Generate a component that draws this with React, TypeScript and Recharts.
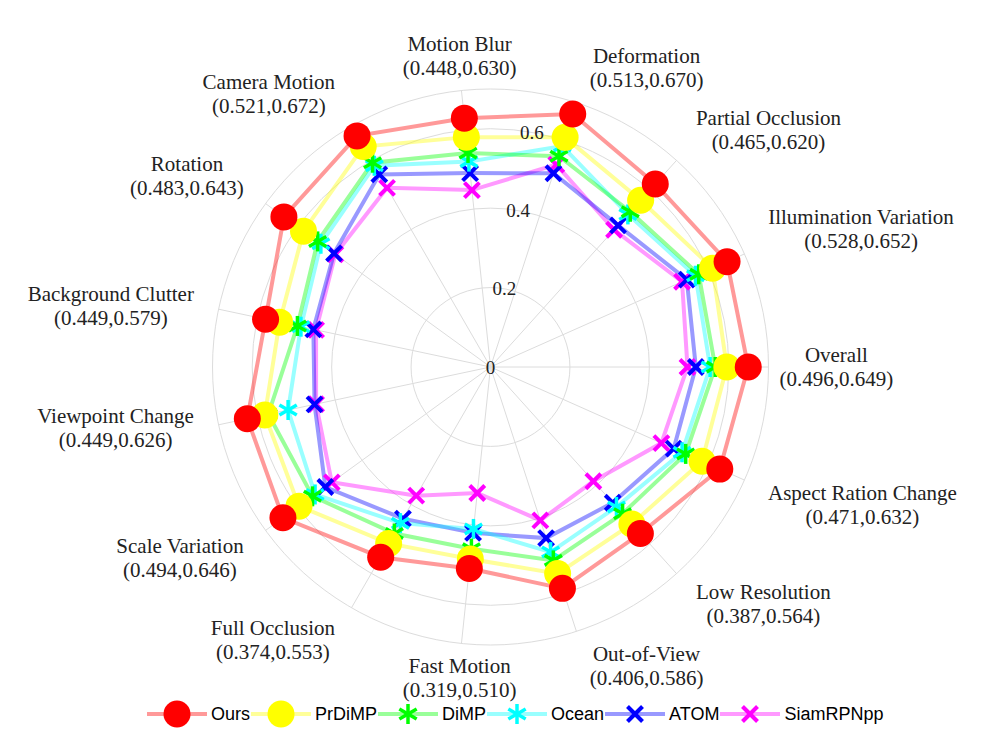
import React from 'react'
import { RadarChart, Radar, PolarGrid, PolarAngleAxis, PolarRadiusAxis, Legend } from 'recharts'

// attribute order, counter-clockwise from the right
const categories = [
  'Overall', 'Illumination Variation', 'Partial Occlusion', 'Deformation', 'Motion Blur',
  'Camera Motion', 'Rotation', 'Background Clutter', 'Viewpoint Change', 'Scale Variation',
  'Full Occlusion', 'Fast Motion', 'Out-of-View', 'Low Resolution', 'Aspect Ration Change',
]
const ours = [0.649, 0.652, 0.620, 0.670, 0.630, 0.672, 0.643, 0.579, 0.626, 0.646, 0.553, 0.510, 0.586, 0.564, 0.632]
const prdimp = [0.595, 0.612, 0.565, 0.608, 0.582, 0.641, 0.582, 0.543, 0.581, 0.596, 0.513, 0.486, 0.547, 0.532, 0.583]
const dimp = [0.566, 0.574, 0.526, 0.558, 0.542, 0.594, 0.538, 0.497, 0.572, 0.554, 0.484, 0.460, 0.512, 0.497, 0.538]
const ocean = [0.553, 0.565, 0.517, 0.585, 0.520, 0.585, 0.528, 0.488, 0.521, 0.546, 0.454, 0.410, 0.490, 0.474, 0.528]
const atom = [0.517, 0.541, 0.480, 0.513, 0.491, 0.560, 0.487, 0.456, 0.453, 0.514, 0.441, 0.420, 0.453, 0.460, 0.505]
const siamrpnpp = [0.496, 0.528, 0.465, 0.536, 0.448, 0.521, 0.483, 0.449, 0.449, 0.494, 0.374, 0.319, 0.406, 0.387, 0.471]
const radiusDomain = [0, 0.7]
const radiusTicks = [0, 0.2, 0.4, 0.6]

type Shape = 'circle' | 'asterisk' | 'cross'
const series: { name: string; values: number[]; color: string; shape: Shape }[] = [
  { name: 'Ours', values: ours, color: '#ff0000', shape: 'circle' },
  { name: 'PrDiMP', values: prdimp, color: '#ffff00', shape: 'circle' },
  { name: 'DiMP', values: dimp, color: '#00ff00', shape: 'asterisk' },
  { name: 'Ocean', values: ocean, color: '#00ffff', shape: 'asterisk' },
  { name: 'ATOM', values: atom, color: '#0000ff', shape: 'cross' },
  { name: 'SiamRPNpp', values: siamrpnpp, color: '#ff00ff', shape: 'cross' },
]

const rows = categories.map((name, i) => {
  const row: Record<string, number | string> = { name }
  series.forEach((s) => { row[s.name] = s.values[i] })
  return row
})

const CX = 490.5
const CY = 367
const OUTER = 278
const LABEL_R = 295
const LABEL_FONT = '"Liberation Serif", "Times New Roman", serif'

let ctx: CanvasRenderingContext2D | null = null
const measure = (s: string) => {
  if (!ctx) ctx = document.createElement('canvas').getContext('2d')
  if (!ctx) return s.length * 10
  ctx.font = `21px ${LABEL_FONT}`
  return ctx.measureText(s).width
}

function marker(shape: Shape, x: number, y: number, color: string, key?: string) {
  if (shape === 'circle') return <circle key={key} cx={x} cy={y} r={13.5} fill={color} />
  if (shape === 'asterisk') {
    const a = 10
    return (
      <g key={key} stroke={color} strokeWidth={3.5}>
        {[90, 30, 150].map((d) => {
          const r = (d * Math.PI) / 180
          return <line key={d} x1={x - a * Math.cos(r)} y1={y - a * Math.sin(r)} x2={x + a * Math.cos(r)} y2={y + a * Math.sin(r)} />
        })}
      </g>
    )
  }
  const b = 7.5
  return (
    <g key={key} stroke={color} strokeWidth={4}>
      <line x1={x - b} y1={y - b} x2={x + b} y2={y + b} />
      <line x1={x - b} y1={y + b} x2={x + b} y2={y - b} />
    </g>
  )
}

// label angle follows the category index, counter-clockwise from the right
const AngleTick = (props: any) => {
  const { payload } = props
  const idx = categories.indexOf(payload.value)
  if (idx < 0) return null
  const ang = (idx * 2 * Math.PI) / categories.length
  const cos = Math.cos(ang)
  const sin = Math.sin(ang)
  const vals = series.map((s) => s.values[idx])
  const l1 = categories[idx]
  const l2 = `(${Math.min(...vals).toFixed(3)},${Math.max(...vals).toFixed(3)})`
  const w = Math.max(measure(l1), measure(l2))
  const ax = CX + LABEL_R * cos
  const ay = CY - LABEL_R * sin
  const pad = Math.abs(sin) < 0.05 ? -6 : 8
  const tx = cos > 0.2 ? ax + w / 2 + pad : cos < -0.2 ? ax - w / 2 - pad : ax
  const ty = sin > 0.3 ? ay - 18 : sin < -0.3 ? ay + 18 : ay
  return (
    <text textAnchor="middle" fontFamily={LABEL_FONT} fontSize={21} fill="#222">
      <tspan x={tx} y={ty - 12} dominantBaseline="central">{l1}</tspan>
      <tspan x={tx} y={ty + 12} dominantBaseline="central">{l2}</tspan>
    </text>
  )
}

const RadiusTick = (props: any) => {
  const { x, y, payload } = props
  return (
    <text x={x} y={y} textAnchor="middle" dominantBaseline="central" fontFamily={LABEL_FONT} fontSize={19} fill="#222">
      {String(payload.value)}
    </text>
  )
}

const renderLegend = () => (
  <div style={{ display: 'flex', alignItems: 'center', fontFamily: '"Liberation Sans", Arial, sans-serif', fontSize: 18, color: '#000' }}>
    {series.map((s) => (
      <div key={s.name} style={{ display: 'flex', alignItems: 'center', marginRight: 1 }}>
        <svg width={60} height={30}>
          <line x1={0} y1={15} x2={60} y2={15} stroke={s.color} strokeOpacity={0.4} strokeWidth={4} />
          {marker(s.shape, 30, 15, s.color)}
        </svg>
        <span style={{ marginLeft: 4 }}>{s.name}</span>
      </div>
    ))}
  </div>
)

export default function App() {
  const drawOrder = [...series].reverse()
  return (
    <div style={{ position: 'absolute', left: 0, top: 0, width: 997, height: 737, background: '#fff' }}>
      <RadarChart width={997} height={737} data={rows} cx={CX} cy={CY} outerRadius={OUTER} startAngle={-24} endAngle={336} margin={{ top: 0, right: 0, bottom: 0, left: 0 }}>
        <PolarGrid gridType="circle" stroke="#dcdcdc" strokeWidth={1} />
        <PolarAngleAxis dataKey="name" tick={AngleTick} tickLine={false} axisLine={{ stroke: '#dcdcdc' }} axisLineType="circle" />
        <PolarRadiusAxis
          type="number"
          angle={80}
          domain={radiusDomain}
          allowDataOverflow
          allowDecimals
          tickCount={5}
          ticks={radiusTicks}
          tick={RadiusTick}
          axisLine={false}
        />
        {drawOrder.map((s) => (
          <Radar
            key={s.name}
            name={s.name}
            dataKey={s.name}
            stroke={s.color}
            strokeOpacity={0.4}
            strokeWidth={4}
            fill="none"
            fillOpacity={0}
            dot={(p: any) => marker(s.shape, p.cx, p.cy, s.color, `${s.name}-${p.index}`)}
            isAnimationActive={false}
          />
        ))}
        <Legend content={renderLegend} wrapperStyle={{ position: 'absolute', left: 147, top: 699, width: 'auto', height: 30 }} />
      </RadarChart>
    </div>
  )
}
